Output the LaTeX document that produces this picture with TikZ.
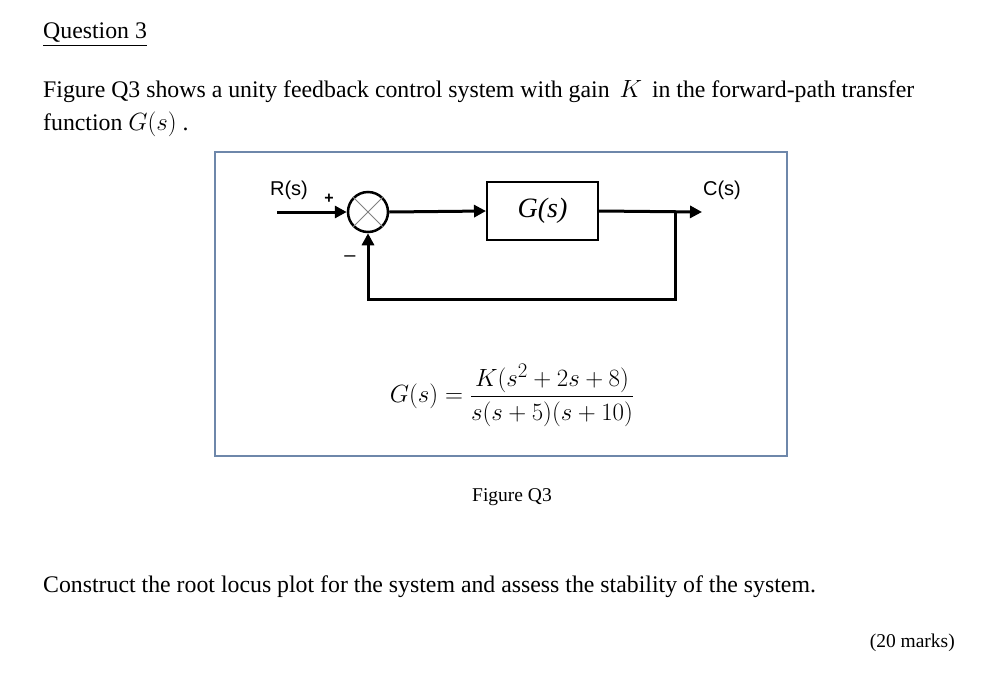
\documentclass[tikz,border=0pt]{standalone}
\usepackage{amsmath}
\usepackage{fontspec}
\setmainfont{Liberation Serif}
\newfontfamily\sansf{Liberation Sans}
\usetikzlibrary{arrows.meta}
\begin{document}
\begin{tikzpicture}[x=1pt,y=-1pt,
  txt/.style={inner sep=0pt,font=\fontsize{23.8}{28}\selectfont},
  lbl/.style={inner sep=0pt,font=\sansf\fontsize{20}{24}\selectfont},
  sig/.style={line width=3pt,-{Triangle[length=12pt,width=12pt]}},
  wire/.style={line width=3pt}]
\useasboundingbox (0,0) rectangle (999,678);
\node[txt,anchor=base west] (q) at (43,38) {\underline{Question 3}};
\node[txt,anchor=base west,align=left] (intro) at (43,97) {Figure Q3 shows a unity feedback control system with gain \,$K$\, in the forward-path transfer};
\node[txt,anchor=base west] (intro2) at (43,130) {function $G(s)$ .};
\draw[draw={rgb,255:red,110;green,135;blue,170},line width=1.2pt] (215,152) rectangle (787,456);
\node[draw,circle,line width=2.5pt,minimum size=40pt,inner sep=0pt] (sum) at (368,212) {};
\draw[line width=1pt,gray] (sum.45)--(sum.225) (sum.135)--(sum.315);
\node[draw,line width=2pt,minimum width=111pt,minimum height=58pt,inner sep=0pt,font=\fontsize{28}{32}\selectfont] (G) at (542.5,211) {\textit{G(s)}};
\node[lbl] (R) at (289,190) {R(s)};
\node[lbl] (C) at (722,190) {C(s)};
\node[lbl,font=\sansf\fontsize{16}{18}\selectfont\bfseries] (plus) at (329,199) {+};
\node[lbl] (minus) at (350,259) {–};
\coordinate (in) at (277,212);
\coordinate (out) at (702,212);
\coordinate (tap) at (675,212);
\coordinate (fb1) at (675,299);
\coordinate (fb2) at (368,299);
\draw[sig] (in) -- (sum.west);
\draw[sig] (sum.east) -- (G.west);
\draw[sig] (G.east) -- (out);
\draw[sig] (tap) -- (fb1) -- (fb2) -- (sum.south);
\node[inner sep=0pt,font=\fontsize{29}{34}\selectfont] (eq) at (512,395) {$G(s)=\dfrac{K(s^2+2s+8)}{s(s+5)(s+10)}$};
\node[inner sep=0pt,font=\fontsize{19.5}{23}\selectfont] (fig) at (512,497) {Figure Q3};
\node[txt,anchor=base west] (task) at (43,592) {Construct the root locus plot for the system and assess the stability of the system.};
\node[inner sep=0pt,anchor=base east,font=\fontsize{19.5}{23}\selectfont] (marks) at (955,647) {(20 marks)};
\end{tikzpicture}
\end{document}
